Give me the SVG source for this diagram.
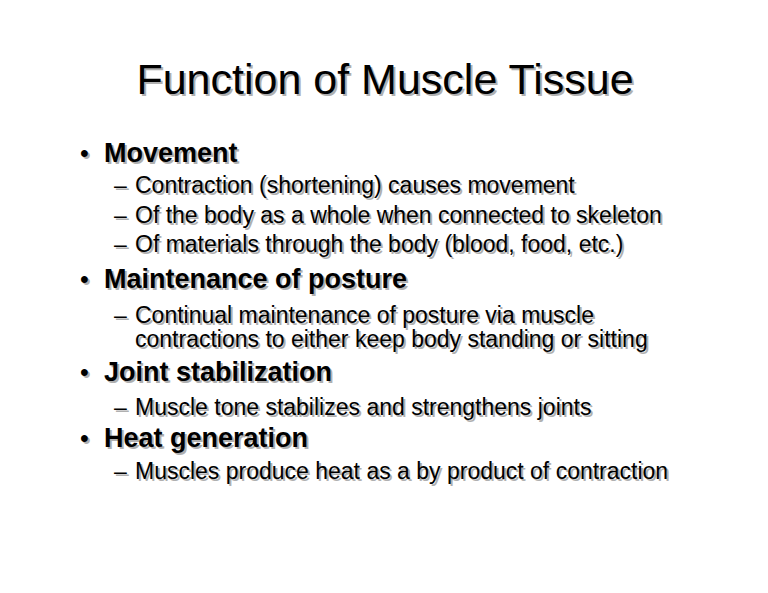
<svg xmlns="http://www.w3.org/2000/svg" xmlns:xlink="http://www.w3.org/1999/xlink" width="768" height="593" viewBox="0 0 768 593">
<style>
text{font-family:"Liberation Sans",Arial,sans-serif}
.t{font-size:43px}
.h{font-size:27px;font-weight:bold}
.b{font-size:25px}
.s{font-size:23px}
</style>
<defs>
<g id="content">
<text class="t" x="385" y="94" text-anchor="middle">Function of Muscle Tissue</text>
<g id="movement">
<text class="b" x="80" y="162">•</text><text class="h" x="104" y="162">Movement</text>
<text class="s" x="114" y="193">–</text><text class="s" x="135" y="193">Contraction (shortening) causes movement</text>
<text class="s" x="114" y="223">–</text><text class="s" x="135" y="223">Of the body as a whole when connected to skeleton</text>
<text class="s" x="114" y="252">–</text><text class="s" x="135" y="252">Of materials through the body (blood, food, etc.)</text>
</g>
<g id="posture">
<text class="b" x="80" y="288">•</text><text class="h" x="104" y="288">Maintenance of posture</text>
<text class="s" x="114" y="323">–</text><text class="s" x="135" y="323">Continual maintenance of posture via muscle</text>
<text class="s" x="135" y="347">contractions to either keep body standing or sitting</text>
</g>
<g id="joint">
<text class="b" x="80" y="381">•</text><text class="h" x="104" y="381">Joint stabilization</text>
<text class="s" x="114" y="415">–</text><text class="s" x="135" y="415">Muscle tone stabilizes and strengthens joints</text>
</g>
<g id="heat">
<text class="b" x="80" y="447">•</text><text class="h" x="104" y="447">Heat generation</text>
<text class="s" x="114" y="479">–</text><text class="s" x="135" y="479">Muscles produce heat as a by product of contraction</text>
</g>
</g>
</defs>
<rect width="768" height="593" fill="#fff"/>
<use xlink:href="#content" transform="translate(2,2)" fill="#b0b0b0"/>
<use xlink:href="#content" fill="#000"/>
</svg>
